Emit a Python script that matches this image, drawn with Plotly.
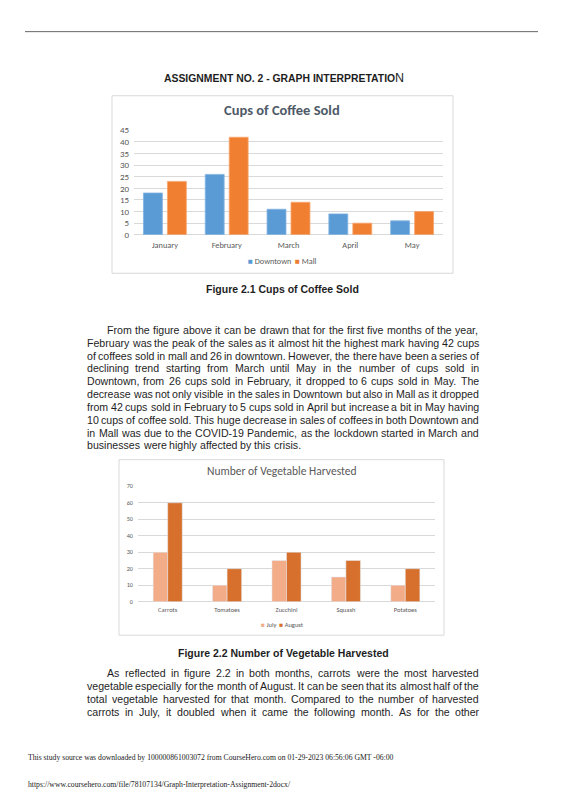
import plotly.graph_objects as go

# chart data
months = ["January", "February", "March", "April", "May"]
downtown = [18, 26, 11, 9, 6]
mall = [23, 42, 14, 5, 10]

vegetables = ["Carrots", "Tomatoes", "Zucchini", "Squash", "Potatoes"]
july = [30, 10, 25, 15, 10]
august = [60, 20, 30, 25, 20]

W, H = 565, 799
TEXT_FONT = "Liberation Sans, Arial, sans-serif"
CHART_FONT = "Carlito, Lato, sans-serif"

para1 = [
    "From the figure above it can be drawn that for the first five months of the year,",
    "February was the peak of the sales as it almost hit the highest mark having 42 cups",
    "of coffees sold in mall and 26 in downtown. However, the there have been a series of",
    "declining trend starting from March until May in the number of cups sold in",
    "Downtown, from 26 cups sold in February, it dropped to 6 cups sold in May. The",
    "decrease was not only visible in the sales in Downtown but also in Mall as it dropped",
    "from 42 cups sold in February to 5 cups sold in April but increase a bit in May having",
    "10 cups of coffee sold. This huge decrease in sales of coffees in both Downtown and",
    "in Mall was due to the COVID-19 Pandemic, as the lockdown started in March and",
    "businesses were highly affected by this crisis.",
]
para2 = [
    "As reflected in figure 2.2 in both months, carrots were the most harvested",
    "vegetable especially for the month of August. It can be seen that its almost half of the",
    "total vegetable harvested for that month. Compared to the number of harvested",
    "carrots in July, it doubled when it came the following month. As for the other",
]


def px(x):
    return x / W


def py(y):
    return 1 - y / H


# Arial/Helvetica advance widths (1/1000 em), used to justify the body text
CW = {" ": 278, ",": 278, "-": 333, ".": 278, ":": 278, "/": 278, "(": 333, ")": 333}
CW.update({d: 556 for d in "0123456789"})
CW.update(dict(zip("ABCDEFGHIJKLMNOPQRSTUVWXYZ",
                   [667, 667, 722, 722, 667, 611, 778, 722, 278, 500, 667, 556, 833,
                    722, 778, 667, 778, 722, 667, 611, 722, 667, 944, 667, 667, 611])))
CW.update(dict(zip("abcdefghijklmnopqrstuvwxyz",
                   [556, 556, 500, 556, 556, 278, 556, 556, 222, 222, 500, 222, 833,
                    556, 556, 556, 556, 333, 500, 278, 556, 500, 722, 500, 500, 500])))


def text_width(s, size):
    return sum(CW.get(c, 556) for c in s) * size / 1000


annotations = []


def justify(line, y, x0, x1, size, last=False):
    words = line.split()
    ws = [text_width(w, size) for w in words]
    if last or len(words) == 1:
        gap = 278 * size / 1000
    else:
        gap = (x1 - x0 - sum(ws)) / (len(words) - 1)
    x = x0
    for w, wd in zip(words, ws):
        annotations.append(dict(
            text=w, x=px(x), y=py(y), xref="paper", yref="paper",
            xanchor="left", yanchor="middle", showarrow=False, borderpad=0,
            font=dict(family=TEXT_FONT, size=size, color="#1e1e1e")))
        x += wd + gap


def label(text, x, y, size, family=TEXT_FONT, color="#1e1e1e", xanchor="center"):
    annotations.append(dict(
        text=text, x=px(x), y=py(y), xref="paper", yref="paper",
        xanchor=xanchor, yanchor="middle", showarrow=False, borderpad=0,
        font=dict(family=family, size=size, color=color)))


BODY = 10.6
LEFT, RIGHT = 86, 478
for i, line in enumerate(para1):
    x0 = 106 if i == 0 else LEFT
    justify(line, 328.5 + i * 13.0, x0, RIGHT, BODY, last=(i == len(para1) - 1))
for i, line in enumerate(para2):
    x0 = 106 if i == 0 else LEFT
    justify(line, 676 + i * 13.3, x0, RIGHT, BODY)

label("<b>ASSIGNMENT NO. 2 - GRAPH INTERPRETATIO</b>"
      "<span style='font-size:12.5px'>N</span>", 284, 73.5, 10.4)
label("<b>Figure 2.1 Cups of Coffee Sold</b>", 282.5, 286.5, 10.5)
label("<b>Figure 2.2 Number of Vegetable Harvested</b>", 283, 655.7, 10.5)
label("This study source was downloaded by 100000861003072 from CourseHero.com on "
      "01-29-2023 06:56:06 GMT -06:00", 27, 762, 7.7,
      family="Liberation Serif, Times New Roman, serif", color="#222", xanchor="left")
label("https://www.coursehero.com/file/78107134/Graph-Interpretation-Assignment-2docx/",
      27, 789, 7.7, family="Liberation Serif, Times New Roman, serif", color="#222",
      xanchor="left")

# chart titles and legends
label("<b>Cups of Coffee Sold</b>", 282, 105, 14.5, family=CHART_FONT, color="#4f5a68")
label("<span style='color:#5B9BD5'>■</span> Downtown  "
      "<span style='color:#ED7D31'>■</span> Mall", 282, 259, 8.2,
      family=CHART_FONT, color="#595959")
label("Number of Vegetable Harvested", 282, 471, 11.5, family=CHART_FONT, color="#595959")
label("<span style='color:#F2AC88'>■</span> July  "
      "<span style='color:#D6702C'>■</span> August", 282, 628, 6.5,
      family=CHART_FONT, color="#595959")

fig = go.Figure()

# Figure 2.1 bars
fig.add_trace(go.Bar(x=months, y=downtown, name="Downtown", xaxis="x", yaxis="y",
                     width=0.306, offset=-0.347,
                     marker=dict(color="#5B9BD5", line=dict(color="#82B4E2", width=0.8))))
fig.add_trace(go.Bar(x=months, y=mall, name="Mall", xaxis="x", yaxis="y",
                     width=0.306, offset=0.041,
                     marker=dict(color="#F07F31", line=dict(color="#F7A56C", width=0.8))))

# Figure 2.2 bars
fig.add_trace(go.Bar(x=vegetables, y=july, name="July", xaxis="x2", yaxis="y2",
                     width=0.245, offset=-0.245, marker=dict(color="#F2AC88")))
fig.add_trace(go.Bar(x=vegetables, y=august, name="August", xaxis="x2", yaxis="y2",
                     width=0.245, offset=0.0, marker=dict(color="#D6702C")))

grid = "#D9D9D9"
tick_color = "#595959"

fig.update_layout(
    width=W, height=H,
    margin=dict(l=0, r=0, t=0, b=0),
    paper_bgcolor="white", plot_bgcolor="white",
    barmode="overlay", showlegend=False,
    annotations=annotations,
    xaxis=dict(domain=[px(134), px(443)], anchor="y", range=[-0.5, 4.5],
               showgrid=False, showline=False, ticks="", ticklabelstandoff=4,
               tickfont=dict(family=CHART_FONT, size=8.3, color=tick_color)),
    yaxis=dict(domain=[py(232), py(126)], anchor="x", range=[0, 45], dtick=5,
               gridcolor=grid, gridwidth=0.8, zeroline=True, zerolinecolor=grid,
               zerolinewidth=0.8, showline=False, ticks="", ticklabelstandoff=4,
               tickfont=dict(family=CHART_FONT, size=9, color=tick_color)),
    xaxis2=dict(domain=[px(138), px(435)], anchor="y2", range=[-0.5, 4.5],
                showgrid=False, showline=False, ticks="", ticklabelstandoff=3,
                tickfont=dict(family=CHART_FONT, size=6.5, color=tick_color)),
    yaxis2=dict(domain=[py(604), py(487)], anchor="x2", range=[0, 70], dtick=10,
                gridcolor=grid, gridwidth=0.8, zeroline=True, zerolinecolor=grid,
                zerolinewidth=0.8, showline=False, ticks="", ticklabelstandoff=4,
                tickfont=dict(family=CHART_FONT, size=6.2, color=tick_color)),
    shapes=[
        dict(type="line", xref="paper", yref="paper", x0=px(25), x1=px(538),
             y0=py(26), y1=py(26), line=dict(color="#666", width=1)),
        dict(type="rect", xref="paper", yref="paper", x0=px(112), x1=px(453),
             y0=py(271), y1=py(91), line=dict(color="#D9D9D9", width=1)),
        dict(type="rect", xref="paper", yref="paper", x0=px(119), x1=px(444),
             y0=py(638), y1=py(460), line=dict(color="#D9D9D9", width=1)),
    ],
)

fig.write_html("out.html", config={"displayModeBar": False},
               post_script="document.body.style.margin='0';")
